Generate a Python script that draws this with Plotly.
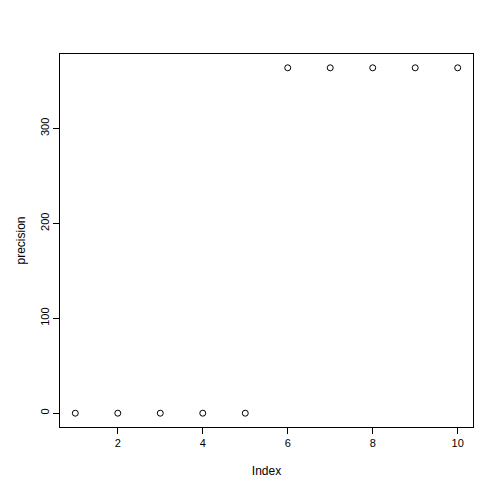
import plotly.graph_objects as go

index = [1, 2, 3, 4, 5, 6, 7, 8, 9, 10]
precision = [0, 0, 0, 0, 0, 364, 364, 364, 364, 364]
x_ticks = [2, 4, 6, 8, 10]
y_ticks = [0, 100, 200, 300]

fig = go.Figure(go.Scatter(
    x=index, y=precision, mode="markers",
    marker=dict(symbol="circle-open", size=6, color="black", line=dict(width=1))))

ax = dict(showgrid=False, zeroline=False, showline=True, linecolor="black",
          linewidth=1, mirror=True, ticks="outside", ticklen=6,
          tickcolor="black", tickfont=dict(size=11, color="black"))
fig.update_layout(
    width=494, height=497, paper_bgcolor="white", plot_bgcolor="white",
    margin=dict(l=49, r=29, t=46, b=78),
    font=dict(family="Liberation Sans, DejaVu Sans", color="black"),
    xaxis=dict(ax, range=[0.64, 10.36], tickvals=x_ticks,
               title=dict(text="Index", font=dict(size=12), standoff=18)),
    yaxis=dict(ax, range=[-14.56, 378.56], tickvals=y_ticks, tickangle=-90,
               title=dict(text="precision", font=dict(size=12), standoff=10)),
    showlegend=False)
fig.write_html("out.html")
